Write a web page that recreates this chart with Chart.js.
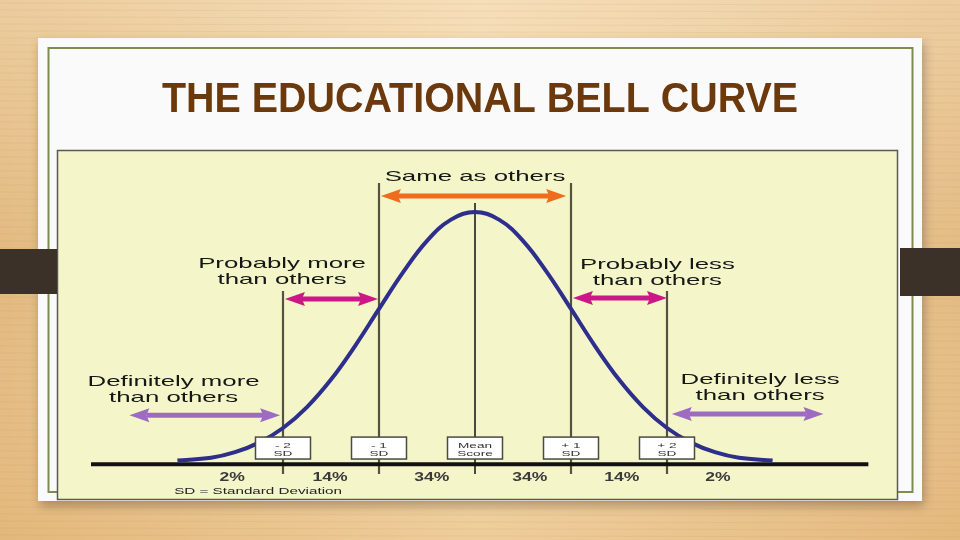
<!DOCTYPE html>
<html><head><meta charset="utf-8">
<style>html,body{margin:0;padding:0;width:960px;height:540px;overflow:hidden;background:#e8c48e}canvas{display:block}</style>
<script src="https://cdn.jsdelivr.net/npm/chart.js@4/dist/chart.umd.min.js"></script>
</head><body>
<canvas id="c" width="960" height="540"></canvas>
<script>
// ---- data ----
const titleText = "THE EDUCATIONAL BELL CURVE";
const sdX = [-3.1,-2.75,-2.5,-2.25,-2,-1.75,-1.5,-1.25,-1,-0.75,-0.5,-0.25,0,0.25,0.5,0.75,1,1.25,1.5,1.75,2,2.25,2.5,2.75,3.1];
const bellHeight = [1.5,2.6,4.8,8.6,14.4,22.7,33.6,46.9,61.6,76.1,88.6,97,100,97,88.6,76.1,61.6,46.9,33.6,22.7,14.4,8.6,4.8,2.6,1.5];
const sdLines = [-2,-1,0,1,2];
const sdBoxText = [["- 2","SD"],["- 1","SD"],["Mean","Score"],["+ 1","SD"],["+ 2","SD"]];
const percentLabels = ["2%","14%","34%","34%","14%","2%"];
const percentAt = [-2.53,-1.51,-0.45,0.57,1.53,2.53];
const zoneLabels = [["Same as others"],["Probably more","than others"],["Probably less","than others"],["Definitely more","than others"],["Definitely less","than others"]];
const zoneFrom = [-0.98,-1.98,1.02,-3.6,2.05];
const zoneTo = [0.95,-1.01,2.0,-2.03,3.63];
const footNote = "SD = Standard Deviation";

// ---- layout / style (not data) ----
const lineTop = {"-2":68.7,"-1":111.5,"0":103.6,"1":111.5,"2":68.7};
const zoneStyle = [
  {y:106.4, color:'#ef6b1e', lx:0,     ly:112.3},
  {y:65.5,  color:'#cc1886', lx:-2.01, ly:77.8},
  {y:65.9,  color:'#cc1886', lx:1.9,   ly:77.4},
  {y:19.5,  color:'#9d6cc2', lx:-3.14, ly:31.0},
  {y:19.9,  color:'#9d6cc2', lx:2.97,  ly:31.8}
];

function stretchText(ctx, str, cx, y, font, color, sx){
  ctx.save();
  ctx.font = font; ctx.fillStyle = color;
  ctx.textAlign = 'center'; ctx.textBaseline = 'alphabetic';
  ctx.translate(cx, y); ctx.scale(sx, 1);
  ctx.fillText(str, 0, 0);
  ctx.restore();
}
function arrow(ctx, x1, x2, y, color){
  const head = 20, hh = 7;
  ctx.save();
  ctx.strokeStyle = color; ctx.fillStyle = color; ctx.lineWidth = 5; ctx.lineCap='butt';
  ctx.beginPath(); ctx.moveTo(x1+head-3, y); ctx.lineTo(x2-head+3, y); ctx.stroke();
  ctx.beginPath(); ctx.moveTo(x1, y); ctx.lineTo(x1+head, y-hh); ctx.lineTo(x1+head-3, y); ctx.lineTo(x1+head, y+hh); ctx.closePath(); ctx.fill();
  ctx.beginPath(); ctx.moveTo(x2, y); ctx.lineTo(x2-head, y-hh); ctx.lineTo(x2-head+3, y); ctx.lineTo(x2-head, y+hh); ctx.closePath(); ctx.fill();
  ctx.restore();
}

const slidePlugin = {
  id: 'slide',
  beforeDraw(chart){
    const ctx = chart.ctx;
    ctx.save();
    // wood
    let g = ctx.createLinearGradient(0,0,960,0);
    g.addColorStop(0,'#e2b97f'); g.addColorStop(0.5,'#f1d5a9'); g.addColorStop(1,'#e3ba82');
    ctx.fillStyle = g; ctx.fillRect(0,0,960,540);
    let g2 = ctx.createLinearGradient(0,0,0,540);
    g2.addColorStop(0,'rgba(255,240,215,0.35)'); g2.addColorStop(0.5,'rgba(255,240,215,0)'); g2.addColorStop(1,'rgba(230,180,110,0.25)');
    ctx.fillStyle = g2; ctx.fillRect(0,0,960,540);
    // streaks
    ctx.globalAlpha = 0.12; ctx.strokeStyle = '#b88a50'; ctx.lineWidth = 1;
    for (let yy = 3; yy < 540; yy += 7) { ctx.beginPath(); ctx.moveTo(0, yy); ctx.lineTo(960, yy + 2); ctx.stroke(); }
    ctx.globalAlpha = 1;
    // card
    ctx.save();
    ctx.shadowColor = 'rgba(60,40,20,0.35)'; ctx.shadowBlur = 10; ctx.shadowOffsetX = 2; ctx.shadowOffsetY = 5;
    ctx.fillStyle = '#fafafa'; ctx.fillRect(38,38,884,463);
    ctx.restore();
    ctx.strokeStyle = '#7f8c4f'; ctx.lineWidth = 2;
    ctx.strokeRect(48.5,48,864,444);
    // title
    ctx.font = 'bold 42px "Liberation Sans", Arial, sans-serif';
    const w = ctx.measureText(titleText).width;
    stretchText(ctx, titleText, 480, 112, 'bold 42px "Liberation Sans", Arial, sans-serif', '#6b390b', 636 / w);
    // panel
    ctx.fillStyle = '#f4f6c9'; ctx.fillRect(57,150,841,350);
    ctx.strokeStyle = '#5a5a50'; ctx.lineWidth = 1.5; ctx.strokeRect(57.5,150.5,840,349);
    // dark bars
    ctx.fillStyle = '#3b3129';
    ctx.fillRect(0,249,57,45);
    ctx.fillRect(900,248,60,48);
    ctx.restore();
  },
  afterDatasetsDraw(chart){
    const ctx = chart.ctx, xs = chart.scales.x, ys = chart.scales.y;
    // SD boxes
    sdLines.forEach((s,i)=>{
      const cx = xs.getPixelForValue(s);
      const top = ys.getPixelForValue(10.8), bot = ys.getPixelForValue(2.1);
      ctx.save();
      ctx.fillStyle = '#ffffff'; ctx.fillRect(cx-27.5, top, 55, bot-top);
      ctx.strokeStyle = '#4a4a44'; ctx.lineWidth = 1.5; ctx.strokeRect(cx-27.5, top, 55, bot-top);
      ctx.restore();
      stretchText(ctx, sdBoxText[i][0], cx, top+10.5, '8px "Liberation Sans", Arial, sans-serif', '#333', 1.7);
      stretchText(ctx, sdBoxText[i][1], cx, top+19, '8px "Liberation Sans", Arial, sans-serif', '#333', 1.7);
    });
    // arrows + labels
    zoneLabels.forEach((lines,i)=>{
      const st = zoneStyle[i];
      arrow(ctx, xs.getPixelForValue(zoneFrom[i]), xs.getPixelForValue(zoneTo[i]), ys.getPixelForValue(st.y), st.color);
      const lx = xs.getPixelForValue(st.lx), ly = ys.getPixelForValue(st.ly);
      lines.forEach((t,j)=> stretchText(ctx, t, lx, ly + j*16, '15px "Liberation Sans", Arial, sans-serif', '#161616', 1.72));
    });
    // percentages
    percentLabels.forEach((t,i)=>{
      stretchText(ctx, t, xs.getPixelForValue(percentAt[i]), ys.getPixelForValue(-6.6), 'bold 13px "Liberation Sans", Arial, sans-serif', '#3a3a3a', 1.35);
    });
    stretchText(ctx, footNote, xs.getPixelForValue(-2.26), ys.getPixelForValue(-11.8), '9px "Liberation Sans", Arial, sans-serif', '#222', 1.69);
  }
};

const datasets = [];
datasets.push({
  label: 'Bell curve',
  data: sdX.map((x,i)=>({x, y: bellHeight[i]})),
  borderColor: '#2e2e8c', borderWidth: 4, pointRadius: 0, tension: 0.4, fill: false, order: 1
});
datasets.push({
  label: 'Baseline',
  data: [{x:-4,y:0},{x:4.1,y:0}],
  borderColor: '#111', borderWidth: 4, pointRadius: 0, order: 2
});
sdLines.forEach(s=>{
  datasets.push({
    label: 'SD ' + s,
    data: [{x:s,y:-3.8},{x:s,y:lineTop[String(s)]}],
    borderColor: s === 0 ? '#111' : '#545240',
    borderWidth: s === 0 ? 1.5 : 2.2, pointRadius: 0, order: 3
  });
});

new Chart(document.getElementById('c'), {
  type: 'line',
  data: { datasets },
  options: {
    responsive: false, animation: false, devicePixelRatio: 1,
    layout: { padding: { left: 91, right: 91.4, top: 149, bottom: 0 } },
    scales: {
      x: { type: 'linear', min: -4, max: 4.1, display: false },
      y: { type: 'linear', min: -30, max: 125, display: false }
    },
    plugins: { legend: { display: false }, tooltip: { enabled: false }, title: { display: false } }
  },
  plugins: [slidePlugin]
});
</script>
</body></html>
